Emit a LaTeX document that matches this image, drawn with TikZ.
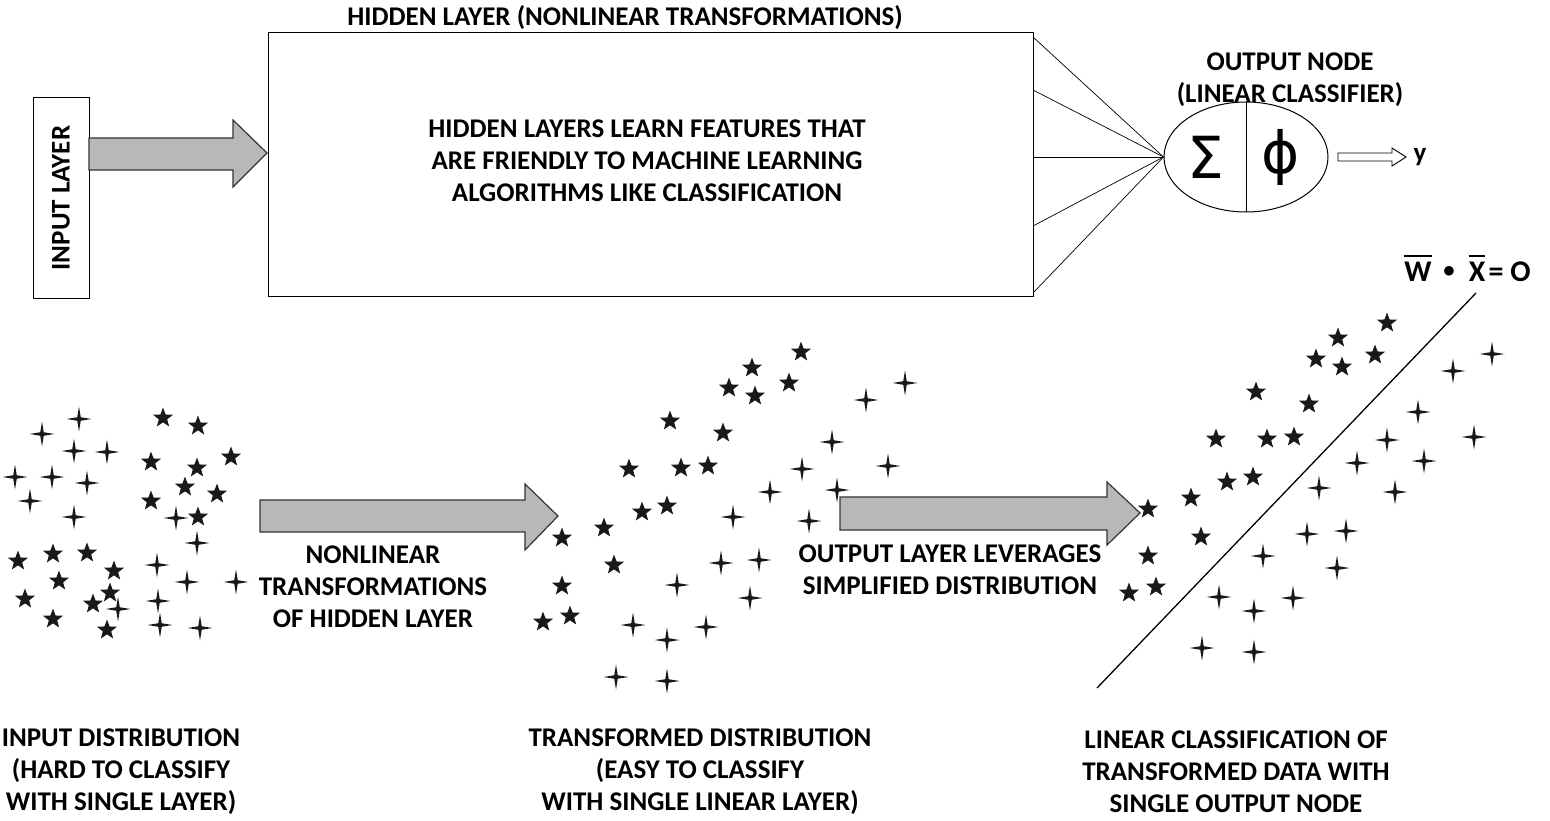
\documentclass[tikz,border=0pt]{standalone}
\usepackage{fontspec}
\setmainfont{Carlito}
\newfontfamily\dvs{DejaVu Sans}
\usetikzlibrary{shapes.geometric}
\begin{document}
\begin{tikzpicture}[x=1pt,y=-1pt,
  txt/.style={font=\fontsize{27}{32}\selectfont\bfseries,align=center,inner sep=0pt},
  eq/.style={font=\fontsize{30}{32}\selectfont\bfseries,inner sep=0pt},
  st/.style={star,star points=5,star point ratio=2.4,fill=black!90,inner sep=0pt,minimum size=21pt},
  cr/.style={star,star points=4,star point ratio=5,fill=black!90,inner sep=0pt,minimum size=25pt},
  garrow/.style={draw=black!80,fill=black!28,line width=1.2pt}]
\useasboundingbox (0,0) rectangle (1550,821);
% top
\node[draw,line width=1pt,minimum width=56pt,minimum height=200pt,inner sep=0pt] (in) at (61,198) {};
\node[txt,rotate=90] at (in) {INPUT LAYER};
\draw[garrow] (89,138)--(233,138)--(233,120)--(267,153)--(233,187)--(233,170)--(89,170)--cycle;
\node[draw,line width=1pt,minimum width=765pt,minimum height=263pt,inner sep=0pt] (hid) at (650.5,164.5) {};
\node[txt] at (625,18) {HIDDEN LAYER (NONLINEAR TRANSFORMATIONS)};
\node[txt] at (647,161) {HIDDEN LAYERS LEARN FEATURES THAT\\ARE FRIENDLY TO MACHINE LEARNING\\ALGORITHMS LIKE CLASSIFICATION};
\node[draw,ellipse,line width=1pt,minimum width=164pt,minimum height=110pt,inner sep=0pt] (out) at (1246,157) {};
\draw[line width=0.8pt] (out.north) -- (out.south);
\node[inner sep=0pt,font=\dvs\fontsize{58}{58}\selectfont] at (1206,157) {Σ};
\node[inner sep=0pt,font=\dvs\fontsize{58}{58}\selectfont] at (1281,157) {ϕ};
\foreach \yy in {37,90,157,226,293}{\draw[line width=0.7pt] (1033,\yy) -- (out.west);}
\draw[line width=0.9pt] (1338,153)--(1392,153)--(1392,148)--(1406,157)--(1392,166)--(1392,161)--(1338,161)--cycle;
\node[txt] at (1420,157) {y};
\node[txt] at (1290,95) {(LINEAR CLASSIFIER)};
\node[txt] at (1290,62) {OUTPUT NODE};
\node[eq] (w) at (1418,272) {W};
\node[eq] (dot) at (1449,272) {$\bullet$};
\node[eq] (x) at (1477,272) {X};
\node[eq,anchor=west] (eqo) at ([xshift=-2pt]x.east) {\,= O};
\draw[line width=1.5pt] ([yshift=6pt]w.north west) -- ([yshift=6pt]w.north east)
  ([yshift=6pt]x.north west) -- ([yshift=6pt]x.north east);
% middle arrows
\draw[garrow] (260,500)--(525,500)--(525,484)--(558,516)--(525,550)--(525,532)--(260,532)--cycle;
\draw[garrow] (840,497)--(1107,497)--(1107,482)--(1140,513)--(1107,545)--(1107,530)--(840,530)--cycle;
\node[txt] at (373,587) {NONLINEAR\\TRANSFORMATIONS\\OF HIDDEN LAYER};
\node[txt] at (950,570) {OUTPUT LAYER LEVERAGES\\SIMPLIFIED DISTRIBUTION};
\node[txt] at (121,772) {INPUT DISTRIBUTION\\(HARD TO CLASSIFY\\WITH SINGLE LAYER)};
\node[txt] at (700,772) {TRANSFORMED DISTRIBUTION\\(EASY TO CLASSIFY\\WITH SINGLE LINEAR LAYER)};
\node[txt] at (1236,772) {LINEAR CLASSIFICATION OF\\TRANSFORMED DATA WITH\\SINGLE OUTPUT NODE};
\draw[line width=1.3pt] (1097,688) -- (1476,293);
% points
\foreach \p in {(79,419),(42,434),(74,451),(107,452),(15,477),(52,477),(87,483),(30,501),(74,517),(176,518),(197,543),(157,565),(187,582),(236,582),(158,601),(118,609),(160,625),(200,628),
(905,383),(866,400),(832,442),(888,466),(802,469),(837,490),(770,492),(733,517),(809,521),(721,563),(759,560),(677,585),(750,598),(633,625),(706,627),(667,640),(616,677),(667,681),
(1492,354),(1453,371),(1418,412),(1474,437),(1387,440),(1357,463),(1424,461),(1319,488),(1395,492),(1307,534),(1346,531),(1263,556),(1337,568),(1219,597),(1293,598),(1254,611),(1202,648),(1254,652)}
  \node[cr] at \p {};
\foreach \p in {(163,418),(198,426),(151,462),(231,457),(197,468),(185,487),(217,494),(151,501),(198,517),(18,561),(53,554),(87,553),(114,571),(59,581),(110,593),(25,599),(93,604),(53,619),(107,630),
(801,352),(752,368),(789,383),(729,388),(755,396),(670,421),(723,433),(629,469),(681,468),(708,466),(642,512),(667,506),(604,528),(562,538),(614,565),(562,586),(543,622),(570,616),
(1387,323),(1338,338),(1316,359),(1342,367),(1375,355),(1256,392),(1309,404),(1216,439),(1267,439),(1294,437),(1227,482),(1253,477),(1191,498),(1148,509),(1201,537),(1148,556),(1129,593),(1156,587)}
  \node[st] at \p {};
\end{tikzpicture}
\end{document}
